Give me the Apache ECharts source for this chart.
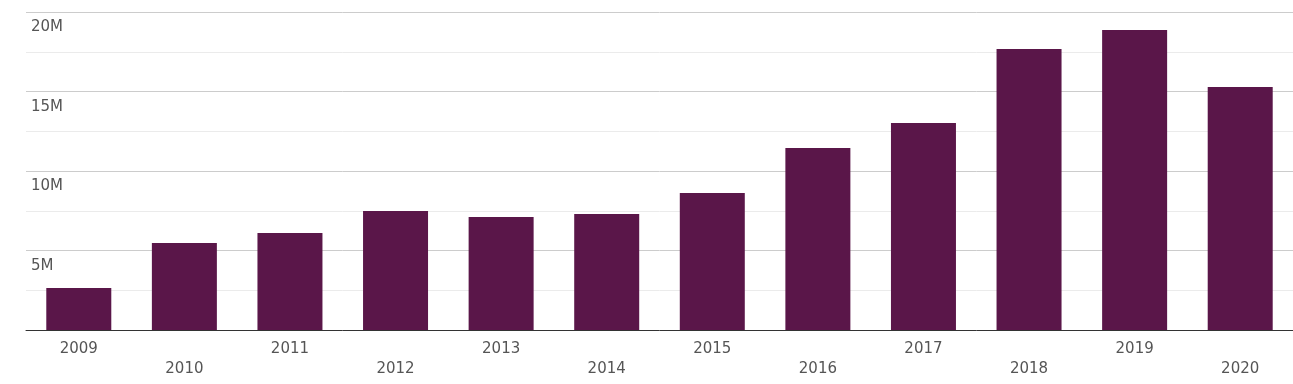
<!DOCTYPE html>
<html>
<head>
<meta charset="utf-8">
<script src="https://cdn.jsdelivr.net/npm/echarts@6/dist/echarts.min.js"></script>
<style>html,body{margin:0;padding:0;background:#fff}#c{width:1293px;height:384px}</style>
</head>
<body>
<div id="c"></div>
<script>
const categories = ['2009','2010','2011','2012','2013','2014','2015','2016','2017','2018','2019','2020'];
const values = [2640000, 5470000, 6100000, 7480000, 7100000, 7300000, 8620000, 11450000, 13020000, 17680000, 18870000, 15280000];
const yTicks = ['5M','10M','15M','20M'];

const chart = echarts.init(document.getElementById('c'));
chart.setOption({
  animation: false,
  grid: {left: 26, right: 0, top: 12, bottom: 54},
  xAxis: {
    type: 'category',
    data: categories,
    axisLine: {lineStyle: {color: '#333', width: 1}},
    axisTick: {show: false},
    axisLabel: {
      color: '#555', fontSize: 15, fontFamily: 'DejaVu Sans', lineHeight: 20, margin: 9, interval: 0,
      formatter: (v, i) => (i % 2 ? '\n' + v : v)
    }
  },
  yAxis: {
    type: 'value', min: 0, max: 20000000, interval: 5000000,
    axisLine: {show: false}, axisTick: {show: false},
    axisLabel: {
      inside: true, margin: 5, color: '#555', fontSize: 15, fontFamily: 'DejaVu Sans',
      verticalAlign: 'top', padding: [8, 0, 0, 0],
      formatter: v => (v === 0 ? '' : yTicks[Math.round(v / 5000000) - 1])
    },
    splitLine: {lineStyle: {color: '#cccccc', width: 1}},
    minorTick: {show: false, splitNumber: 2},
    minorSplitLine: {show: true, lineStyle: {color: '#ebebeb', width: 1}}
  },
  series: [{
    type: 'bar', data: values, barWidth: 65,
    itemStyle: {color: '#5a1649'}
  }]
});
</script>
</body>
</html>
